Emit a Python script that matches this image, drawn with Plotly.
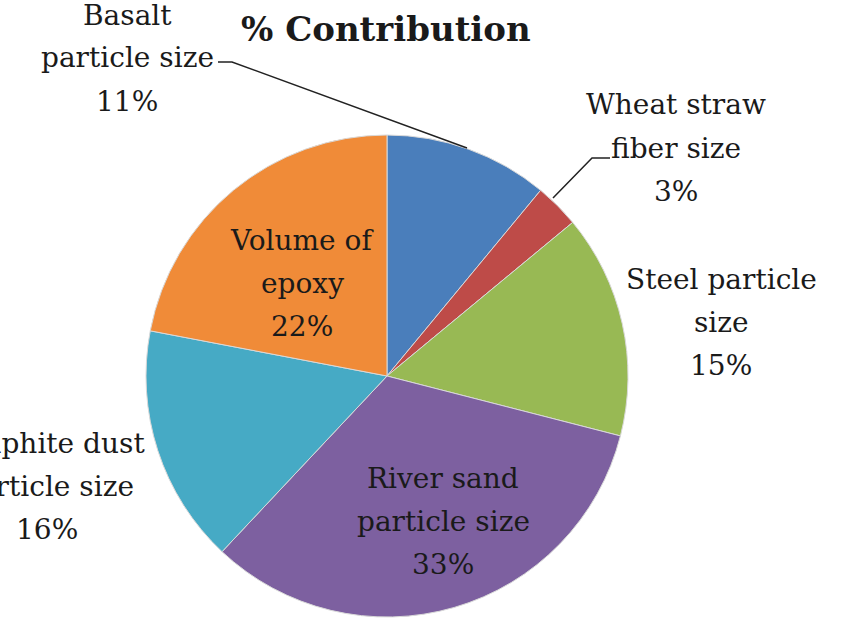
import plotly.graph_objects as go

W, H = 856, 623

# ---- data ----
labels = ["Basalt<br>particle size", "Wheat straw<br>fiber size", "Steel particle<br>size",
          "River sand<br>particle size", "Graphite dust<br>particle size", "Volume of<br>epoxy"]
values = [11, 3, 15, 33, 16, 22]
colors = ["#4a7ebb", "#be4b48", "#98b954", "#7d60a0", "#46aac5", "#f08b38"]
title_text = "% Contribution"

# ---- layout helpers (pixel -> paper) ----
def px(x):
    return x / W

def py(y):
    return 1 - y / H

cx, cy, r = 387, 376, 241

fig = go.Figure(go.Pie(
    labels=[l.replace("<br>", " ") for l in labels],
    values=values,
    sort=False,
    direction="clockwise",
    rotation=0,
    marker=dict(colors=colors, line=dict(color="#d9d9d9", width=1)),
    textinfo="none",
    hoverinfo="label+percent",
    showlegend=False,
    domain=dict(x=[px(cx - r), px(cx + r)], y=[py(cy + r), py(cy - r)]),
))

# label centres (pixel) and line spacing
label_pos = [(127, 15), (676, 105), (721, 279), (443, 478), (47, 443), (302, 240)]
line_gap = 43
font = "DejaVu Serif"
total = sum(values)
annotations = []
for lab, val, (lx, ly) in zip(labels, values, label_pos):
    lines = lab.split("<br>") + [f"{round(100 * val / total)}%"]
    for i, t in enumerate(lines):
        annotations.append(dict(
            x=px(lx), y=py(ly + i * line_gap), xref="paper", yref="paper",
            text=t, showarrow=False, xanchor="center", yanchor="middle",
            font=dict(family=font, size=28, color="#1a1a1a"),
        ))

annotations.append(dict(
    x=px(386), y=py(29), xref="paper", yref="paper", text="<b>" + title_text + "</b>",
    showarrow=False, xanchor="center", yanchor="middle",
    font=dict(family=font, size=34, color="#1a1a1a"),
))

shapes = [
    dict(type="path", xref="paper", yref="paper",
         path=f"M {px(218)},{py(62)} L {px(232)},{py(62)} L {px(467)},{py(148)}",
         line=dict(color="#222222", width=1.5)),
    dict(type="path", xref="paper", yref="paper",
         path=f"M {px(610)},{py(158)} L {px(592)},{py(158)} L {px(553)},{py(198)}",
         line=dict(color="#222222", width=1.5)),
]

fig.update_layout(
    width=W, height=H,
    margin=dict(l=0, r=0, t=0, b=0),
    paper_bgcolor="white", plot_bgcolor="white",
    annotations=annotations, shapes=shapes,
)

fig.write_html("out.html")
